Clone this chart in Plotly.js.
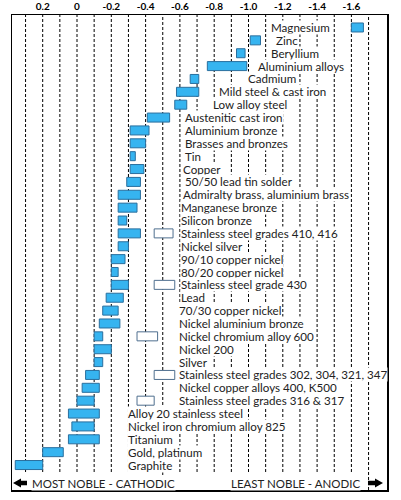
<!DOCTYPE html>
<html>
<head>
<meta charset="utf-8">
<script src="https://cdn.plot.ly/plotly-3.0.1.min.js"></script>
<style>html,body{margin:0;padding:0;background:#fff;}#chart{width:401px;height:500px;}</style>
</head>
<body>
<div id="chart"></div>
<script>
// ---- data ----
const metals = [
  "Magnesium","Zinc","Beryllium","Aluminium alloys","Cadmium","Mild steel & cast iron",
  "Low alloy steel","Austenitic cast iron","Aluminium bronze","Brasses and bronzes","Tin",
  "Copper","50/50 lead tin solder","Admiralty brass, aluminium brass","Manganese bronze",
  "Silicon bronze","Stainless steel grades 410, 416","Nickel silver","90/10 copper nickel",
  "80/20 copper nickel","Stainless steel grade 430","Lead","70/30 copper nickel",
  "Nickel aluminium bronze","Nickel chromium alloy 600","Nickel 200","Silver",
  "Stainless steel grades 302, 304, 321, 347","Nickel copper alloys 400, K500",
  "Stainless steel grades 316 & 317","Alloy 20 stainless steel",
  "Nickel iron chromium alloy 825","Titanium","Gold, platinum","Graphite"
];
// potential range (V), noble end and active end
const rangeHigh = [-1.60,-1.01,-0.93,-0.76,-0.66,-0.58,-0.57,-0.41,-0.31,-0.31,-0.31,-0.31,-0.29,-0.24,-0.24,-0.24,-0.24,-0.24,-0.20,-0.20,-0.20,-0.17,-0.15,-0.13,-0.10,-0.10,-0.10,-0.05,-0.03,0.00,0.05,0.03,0.05,0.20,0.36];
const rangeLow  = [-1.67,-1.07,-0.98,-0.99,-0.71,-0.71,-0.64,-0.54,-0.42,-0.40,-0.34,-0.39,-0.37,-0.37,-0.35,-0.29,-0.37,-0.30,-0.28,-0.24,-0.30,-0.27,-0.24,-0.25,-0.15,-0.20,-0.15,-0.13,-0.13,-0.10,-0.13,-0.10,-0.13,0.08,0.20];
// active (crevice) range for stainless/nickel-chromium alloys
const activeHigh = [null,null,null,null,null,null,null,null,null,null,null,null,null,null,null,null,-0.45,null,null,null,-0.45,null,null,null,-0.35,null,null,-0.45,null,-0.35,null,null,null,null,null];
const activeLow  = [null,null,null,null,null,null,null,null,null,null,null,null,null,null,null,null,-0.56,null,null,null,-0.57,null,null,null,-0.47,null,null,-0.57,null,-0.45,null,null,null,null,null];
const tickValues = [0.2,0,-0.2,-0.4,-0.6,-0.8,-1.0,-1.2,-1.4,-1.6];
const tickLabels = ["0.2","0","-0.2","-0.4","-0.6","-0.8","-1.0","-1.2","-1.4","-1.6"];
const gridValues = [0.3,0.2,0.1,0,-0.1,-0.2,-0.3,-0.4,-0.5,-0.6,-0.7,-0.8,-0.9,-1.0,-1.1,-1.2,-1.3,-1.4,-1.5,-1.6,-1.7];

// ---- layout helpers (positions, not data) ----
const labelPos = [-1.125,-1.155,-1.125,-1.05,-0.99,-0.822,-0.787,-0.624,-0.624,-0.624,-0.624,-0.612,-0.624,-0.612,-0.60,-0.60,-0.60,-0.60,-0.60,-0.60,-0.60,-0.60,-0.589,-0.589,-0.589,-0.589,-0.589,-0.589,-0.589,-0.589,-0.292,-0.292,-0.292,-0.292,-0.292];
const W = 401, H = 500, ML = 12, MR = 14, MT = 15, MB = 10;
const PW = W - ML - MR, PH = H - MT - MB;
const px = x => (x - ML) / PW;
const py = y => (H - MB - y) / PH;
function path(pts){ return 'M' + pts.map(p => px(p[0]).toFixed(4) + ',' + py(p[1]).toFixed(4)).join(' L') + ' Z'; }

const FONT = 'Lato, "Open Sans", sans-serif';

const blue = {
  type:'bar', orientation:'h', y: metals,
  base: rangeHigh, x: rangeLow.map((v,i)=> v - rangeHigh[i]),
  width:0.7,
  marker:{color:'#36b4f0', line:{color:'#2a6f9e', width:1}},
  hoverinfo:'skip'
};
const active = {
  type:'bar', orientation:'h', y: metals,
  base: activeHigh, x: activeLow.map((v,i)=> v==null?null:v - activeHigh[i]),
  width:0.7,
  marker:{color:'#ffffff', line:{color:'#4f6f8f', width:1}},
  hoverinfo:'skip'
};

const shapes = gridValues.map(v => ({
  type:'line', xref:'x', yref:'paper', x0:v, x1:v,
  y0: (Math.abs(v+0.5)<1e-9 || Math.abs(v+1.7)<1e-9) ? 0 : py(472), y1:1,
  line:{color:'#000', width:1, dash:'3px,2px'}, layer:'below'
}));
shapes.push({type:'path', xref:'paper', yref:'paper', fillcolor:'#000', line:{width:0},
  path: path([[13,483],[21,478.5],[21,480.8],[27,480.8],[27,485.2],[21,485.2],[21,487.5]])});
shapes.push({type:'path', xref:'paper', yref:'paper', fillcolor:'#000', line:{width:0},
  path: path([[383,483],[375,478.5],[375,480.8],[368,480.8],[368,485.2],[375,485.2],[375,487.5]])});

const annotations = metals.map((m,i) => ({
  x: labelPos[i], y: m, xref:'x', yref:'y', text: m, showarrow:false,
  xanchor:'left', yanchor:'middle', bgcolor:'#ffffff', borderpad:0,
  font:{family:FONT, size:11.6, color:'#222'}
}));
annotations.push({x:px(31), y:py(483), xref:'paper', yref:'paper', text:'MOST NOBLE - CATHODIC',
  showarrow:false, xanchor:'left', yanchor:'middle', bgcolor:'#fff', borderpad:0,
  font:{family:FONT, size:11.5, color:'#222'}});
annotations.push({x:px(361), y:py(483), xref:'paper', yref:'paper', text:'LEAST NOBLE - ANODIC',
  showarrow:false, xanchor:'right', yanchor:'middle', bgcolor:'#fff', borderpad:0,
  font:{family:FONT, size:11.5, color:'#222'}});

const layout = {
  width:W, height:H,
  margin:{l:ML, r:MR, t:MT, b:MB, pad:0},
  paper_bgcolor:'#fff', plot_bgcolor:'#fff',
  showlegend:false, barmode:'overlay',
  xaxis:{
    range:[(77-ML)/171.5, -(W-MR-77)/171.5], side:'top',
    tickmode:'array', tickvals:tickValues, ticktext:tickLabels,
    tickfont:{family:FONT, size:10, color:'#000', weight:'bold'},
    ticks:'', ticklabelstandoff:0,
    showgrid:false, zeroline:false, showline:true, mirror:true, linecolor:'#000', linewidth:1.5
  },
  yaxis:{
    type:'category', categoryorder:'array', categoryarray:metals,
    range:[35.94, -0.97], showticklabels:false, ticks:'',
    showgrid:false, zeroline:false, showline:true, mirror:true, linecolor:'#000', linewidth:1.5
  },
  shapes: shapes,
  annotations: annotations
};

Plotly.newPlot('chart', [blue, active], layout, {displayModeBar:false, staticPlot:true});
</script>
</body>
</html>
